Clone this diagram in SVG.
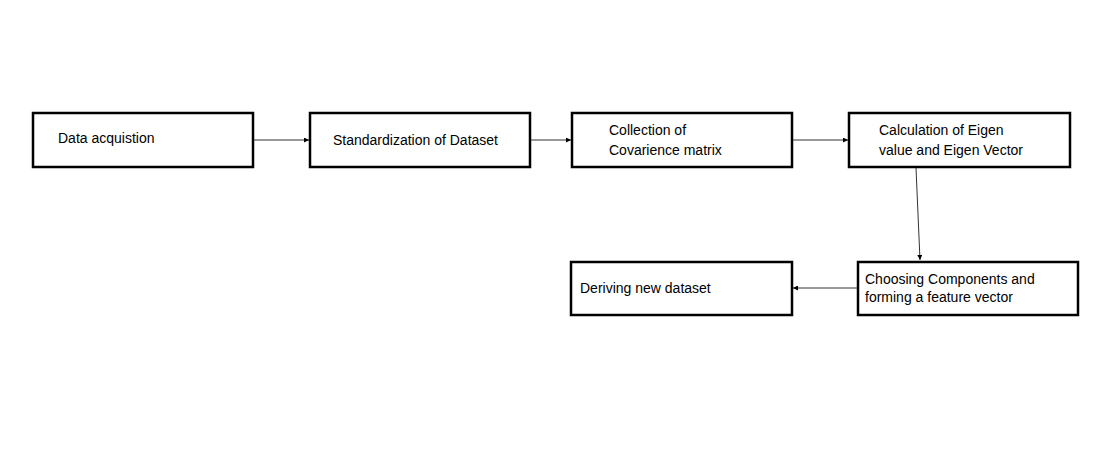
<svg xmlns="http://www.w3.org/2000/svg" width="1100" height="459" viewBox="0 0 1100 459">
<style>
rect{fill:#fff;stroke:#000;stroke-width:2.5}
text{font-family:"Liberation Sans",Arial,sans-serif;font-size:14px;fill:#000}
.c line{stroke:#333;stroke-width:1}
</style>
<defs><marker id="a" viewBox="0 0 6 6" refX="6" refY="3" markerWidth="5" markerHeight="5" orient="auto"><path d="M0,0L6,3L0,6z" fill="#000"/></marker></defs>
<rect x="0" y="0" width="1100" height="459" style="stroke:none"/>
<g id="n1"><rect x="33" y="113" width="220" height="54"/><text x="58" y="143">Data acquistion</text></g>
<g id="n2"><rect x="310" y="113" width="220" height="54"/><text x="333" y="145">Standardization of Dataset</text></g>
<g id="n3"><rect x="572" y="113" width="220" height="54"/><text x="609" y="135">Collection of</text><text x="609" y="155">Covarience matrix</text></g>
<g id="n4"><rect x="849" y="113" width="221" height="54"/><text x="879" y="135">Calculation of Eigen</text><text x="879" y="155">value and Eigen Vector</text></g>
<g id="n5"><rect x="858" y="262" width="220" height="53"/><text x="865" y="284">Choosing Components and</text><text x="865" y="302">forming a feature vector</text></g>
<g id="n6"><rect x="571" y="262" width="221" height="53"/><text x="580" y="293">Deriving new dataset</text></g>
<g class="c">
<line x1="254" y1="140" x2="309" y2="140" marker-end="url(#a)"/>
<line x1="531" y1="140" x2="571" y2="140" marker-end="url(#a)"/>
<line x1="793" y1="140" x2="848" y2="140" marker-end="url(#a)"/>
<line x1="916" y1="168" x2="920" y2="260" marker-end="url(#a)"/>
<line x1="857" y1="288" x2="793" y2="288" marker-end="url(#a)"/>
</g>
</svg>
